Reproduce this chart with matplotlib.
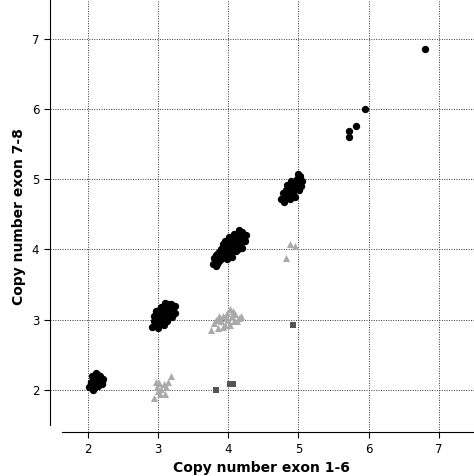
import matplotlib.pyplot as plt

# black circles: (x, y) copy numbers
cn2_x = [2.02, 2.05, 2.08, 2.1, 2.12, 2.15, 2.18, 2.2, 2.22, 2.06, 2.1, 2.14, 2.17, 2.04, 2.12, 2.2, 2.08, 2.15]
cn2_y = [2.05, 2.12, 2.0, 2.18, 2.1, 2.22, 2.14, 2.08, 2.16, 2.2, 2.04, 2.15, 2.2, 2.1, 2.24, 2.12, 2.02, 2.06]

cn3_x = [2.92, 2.95, 2.98, 3.0, 3.02, 3.05, 3.08, 3.1, 3.12, 3.15, 3.18, 3.2, 3.22, 3.25, 2.97, 3.03, 3.07, 3.13,
         3.17, 3.0, 3.05, 3.1, 3.15, 3.2, 2.95, 3.08, 3.12, 3.02, 3.18, 3.24, 3.06, 3.14, 2.99, 3.1, 3.21, 3.04]
cn3_y = [2.9, 2.98, 3.05, 2.88, 3.1, 3.0, 3.15, 3.05, 3.2, 3.1, 3.22, 3.15, 3.08, 3.2, 3.12, 2.95, 3.08, 2.98,
         3.05, 3.02, 3.18, 3.24, 3.16, 3.04, 3.05, 2.92, 3.1, 3.14, 3.12, 3.1, 3.0, 3.22, 2.96, 3.12, 3.2, 3.06]

cn4_x = [3.78, 3.8, 3.83, 3.85, 3.88, 3.9, 3.92, 3.95, 3.98, 4.0, 4.02, 4.05, 4.08, 4.1, 4.12, 4.15, 4.18, 4.2,
         4.22, 4.25, 3.86, 3.9, 3.94, 3.97, 4.0, 4.04, 4.07, 4.1, 4.13, 4.17, 3.82, 3.93, 4.01, 4.06, 4.14, 4.2,
         3.96, 4.03, 4.11, 4.16, 3.89, 3.99, 4.09, 4.24, 3.84, 4.19]
cn4_y = [3.8, 3.88, 3.76, 3.95, 3.85, 4.0, 3.9, 4.05, 3.95, 4.1, 4.0, 4.12, 4.05, 4.18, 4.1, 4.2, 4.12, 4.25,
         4.15, 4.2, 3.82, 3.92, 3.98, 3.88, 4.02, 3.96, 4.15, 4.08, 4.22, 4.05, 3.92, 4.08, 4.18, 3.9, 4.0, 4.1,
         4.12, 4.06, 3.98, 4.28, 3.98, 3.86, 4.22, 4.12, 3.8, 4.02]

cn5_x = [4.75, 4.78, 4.8, 4.82, 4.85, 4.88, 4.9, 4.92, 4.95, 4.98, 5.0, 5.02, 5.05, 4.84, 4.88, 4.93, 4.97, 5.01,
         4.8, 4.9, 4.95, 5.03, 4.86, 4.99]
cn5_y = [4.72, 4.8, 4.68, 4.85, 4.78, 4.9, 4.82, 4.95, 4.88, 5.0, 4.92, 5.05, 4.98, 4.92, 4.72, 4.8, 4.95, 4.85,
         4.75, 4.98, 4.75, 4.9, 4.86, 5.08]

high_x = [5.72, 5.72, 5.82, 5.95, 6.8]
high_y = [5.6, 5.68, 5.76, 6.0, 6.85]

# grey triangles
tri_x = [2.95, 2.98, 3.0, 3.02, 3.05, 3.08, 3.1, 3.15, 3.18, 3.03, 2.97, 3.12,
         3.75, 3.8, 3.85, 3.88, 3.9, 3.92, 3.95, 3.98, 4.0, 4.02, 4.05, 4.08, 4.1, 4.15, 4.18, 3.93, 3.97, 4.03,
         4.07, 3.87, 4.12, 3.83,
         4.82, 4.88, 4.95]
tri_y = [1.88, 2.05, 1.98, 2.1, 2.02, 2.08, 1.95, 2.12, 2.2, 1.95, 2.12, 2.05,
         2.85, 2.95, 2.88, 3.02, 2.98, 3.05, 2.92, 3.1, 3.0, 3.15, 3.05, 2.98, 3.08, 3.02, 3.06, 2.9, 3.02, 2.92,
         3.12, 3.05, 2.98, 3.0,
         3.88, 4.08, 4.05]

# dark grey squares
sq_x = [3.82, 4.02, 4.07, 4.92]
sq_y = [2.0, 2.08, 2.08, 2.92]

fig = plt.figure(figsize=(4.74, 4.76), dpi=100)
ax = fig.add_axes([0.105, 0.092, 0.895, 0.908])

for xs, ys in [(cn2_x, cn2_y), (cn3_x, cn3_y), (cn4_x, cn4_y), (cn5_x, cn5_y), (high_x, high_y)]:
    ax.scatter(xs, ys, s=28, c='black', marker='o', linewidths=0, zorder=3)
ax.scatter(tri_x, tri_y, s=26, c='#aaaaaa', marker='^', linewidths=0, zorder=3)
ax.scatter(sq_x, sq_y, s=24, c='#555555', marker='s', linewidths=0, zorder=3)

ax.set_xlim(1.46, 7.5)
ax.set_ylim(1.4, 7.55)
ax.set_xticks([2, 3, 4, 5, 6, 7])
ax.set_yticks([2, 3, 4, 5, 6, 7])
ax.grid(True, color='#333333', linestyle=(0, (1, 1.5)), linewidth=0.7)
ax.spines['top'].set_visible(False)
ax.spines['right'].set_visible(False)
ax.spines['left'].set_bounds(1.5, 7.55)
ax.spines['bottom'].set_bounds(1.63, 7.5)
ax.tick_params(direction='out', length=4, labelsize=8.5)
ax.set_xlabel('Copy number exon 1-6', fontweight='bold', fontsize=10)
ax.set_ylabel('Copy number exon 7-8', fontweight='bold', fontsize=10)

fig.savefig('out.png', dpi=100)
